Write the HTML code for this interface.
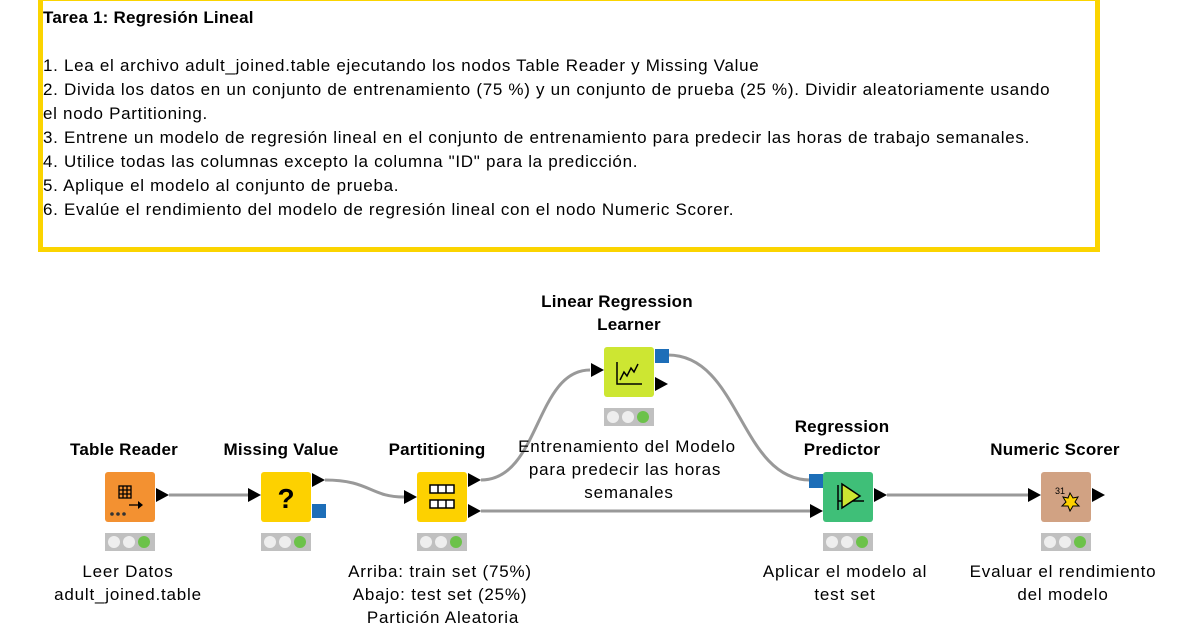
<!DOCTYPE html>
<html><head><meta charset="utf-8"><style>
body{margin:0;width:1200px;height:630px;background:#fff;overflow:hidden;font-family:"Liberation Sans",Arial,sans-serif;}
.box{position:absolute;left:38px;top:-4px;width:1052px;height:246px;border:5px solid #fbd400;}
.box div{font-size:17px;letter-spacing:0.7px;line-height:24px;color:#000;padding-left:0px;}
</style></head><body>
<div class="box"><div style="padding-top:5px">
<b style="letter-spacing:0.2px">Tarea 1: Regresión Lineal</b><br><br>
1. Lea el archivo adult_joined.table ejecutando los nodos Table Reader y Missing Value<br>
2. Divida los datos en un conjunto de entrenamiento (75 %) y un conjunto de prueba (25 %). Dividir aleatoriamente usando<br>
el nodo Partitioning.<br>
3. Entrene un modelo de regresión lineal en el conjunto de entrenamiento para predecir las horas de trabajo semanales.<br>
4. Utilice todas las columnas excepto la columna "ID" para la predicción.<br>
5. Aplique el modelo al conjunto de prueba.<br>
6. Evalúe el rendimiento del modelo de regresión lineal con el nodo Numeric Scorer.
</div></div>
<svg width="1200" height="630" style="position:absolute;left:0;top:0" font-family="Liberation Sans,Arial,sans-serif">
<defs>
<g id="st"><rect x="0" y="0" width="50" height="18" fill="#c0c0c0"/><circle cx="9" cy="9" r="6" fill="#eee"/><circle cx="24" cy="9" r="6" fill="#eee"/><circle cx="39" cy="9" r="6" fill="#6cc24a"/></g>
<path id="ar" d="M0,-7 L13,0 L0,7Z" fill="#000"/>
</defs>
<g fill="none" stroke="#999" stroke-width="3">
<path d="M169,495 H248"/>
<path d="M325,480 C370,480 370,497 404,497"/>
<path d="M481,480 C540,480 535,370 590,370"/>
<path d="M481,511 H810"/>
<path d="M668,355 C740,355 740,480 810,480"/>
<path d="M887,495 H1028"/>
</g>
<rect x="105" y="472" width="50" height="50" rx="3" fill="#f39131"/>
<g fill="none" stroke="#000" stroke-width="1.3"><rect x="119" y="486" width="12" height="12"/><path d="M123,486v12M127,486v12M119,490h12M119,494h12"/><path d="M129,505h12"/></g>
<path d="M138,501 L143,505 L138,509Z" fill="#000"/>
<g fill="#333"><circle cx="112" cy="514" r="1.8"/><circle cx="118" cy="514" r="1.8"/><circle cx="124" cy="514" r="1.8"/></g>
<use href="#ar" x="156" y="495"/>
<use href="#st" x="105" y="533"/>
<rect x="261" y="472" width="50" height="50" rx="3" fill="#fdd100"/>
<text x="286" y="508" font-size="28" font-weight="bold" text-anchor="middle">?</text>
<use href="#ar" x="248" y="495"/><use href="#ar" x="312" y="480"/>
<rect x="312" y="504" width="14" height="14" fill="#1d6eb8"/>
<use href="#st" x="261" y="533"/>
<rect x="417" y="472" width="50" height="50" rx="3" fill="#fdd100"/>
<g fill="#fff" stroke="#000" stroke-width="1.5"><rect x="430" y="485" width="24" height="8"/><rect x="430" y="500" width="24" height="8"/></g>
<path d="M438,485v8M446,485v8M438,500v8M446,500v8" stroke="#000" stroke-width="1.5"/>
<use href="#ar" x="404" y="497"/><use href="#ar" x="468" y="480"/><use href="#ar" x="468" y="511"/>
<use href="#st" x="417" y="533"/>
<rect x="604" y="347" width="50" height="50" rx="3" fill="#cde632"/>
<path d="M617,362v22h25M620,380l4,-8l3,4l4,-8l3,4l4,-8" fill="none" stroke="#000" stroke-width="1.5"/>
<use href="#ar" x="591" y="370"/><use href="#ar" x="655" y="384"/>
<rect x="655" y="349" width="14" height="14" fill="#1d6eb8"/>
<use href="#st" x="604" y="408"/>
<rect x="823" y="472" width="50" height="50" rx="3" fill="#3fbf78"/>
<path d="M838,485v25M838,501h26" stroke="#000" stroke-width="1.5"/>
<path d="M842,484 L860,496 L842,508Z" fill="#cde632" stroke="#000" stroke-width="1.5"/>
<use href="#ar" x="810" y="511"/><use href="#ar" x="874" y="495"/>
<rect x="809" y="474" width="14" height="14" fill="#1d6eb8"/>
<use href="#st" x="823" y="533"/>
<rect x="1041" y="472" width="50" height="50" rx="3" fill="#d1a283"/>
<text x="1055" y="494" font-size="9">31</text>
<path d="M1070,493 l3,5 l5,-1 l-3,5 l4,4 l-6,0 l-3,5 l-2,-5 l-6,0 l4,-4 l-3,-5 l5,1z" fill="#fdd100" stroke="#000"/>
<use href="#ar" x="1028" y="495"/><use href="#ar" x="1092" y="495"/>
<use href="#st" x="1041" y="533"/>
<g font-size="17" font-weight="bold" text-anchor="middle" letter-spacing="0.2">
<text x="124" y="455">Table Reader</text>
<text x="281" y="455">Missing Value</text>
<text x="437" y="455">Partitioning</text>
<text x="617" y="307">Linear Regression</text>
<text x="629" y="330">Learner</text>
<text x="842" y="432">Regression</text>
<text x="842" y="455">Predictor</text>
<text x="1055" y="455">Numeric Scorer</text>
</g>
<g font-size="17" text-anchor="middle" letter-spacing="0.8">
<text x="128" y="577">Leer Datos</text><text x="128" y="600">adult_joined.table</text>
<text x="440" y="577">Arriba: train set (75%)</text><text x="440" y="600">Abajo: test set (25%)</text><text x="443" y="623">Partición Aleatoria</text>
<text x="627" y="452">Entrenamiento del Modelo</text><text x="625" y="475">para predecir las horas</text><text x="629" y="498">semanales</text>
<text x="845" y="577">Aplicar el modelo al</text><text x="845" y="600">test set</text>
<text x="1063" y="577">Evaluar el rendimiento</text><text x="1063" y="600">del modelo</text>
</g>
</svg>
</body></html>
